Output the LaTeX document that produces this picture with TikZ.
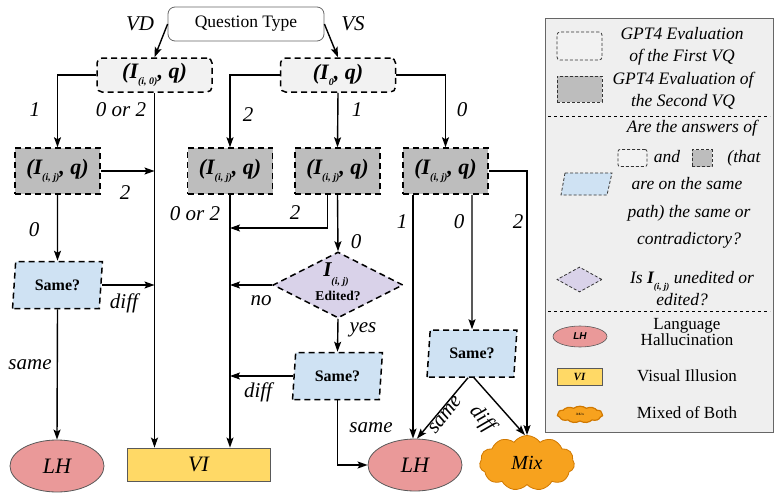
\documentclass[tikz,border=0pt]{standalone}
\usepackage{fontspec}
\setmainfont{Liberation Serif}
\newfontfamily\sansf{Liberation Sans}
\usetikzlibrary{shapes.geometric,shapes.symbols,arrows.meta,calc}
\definecolor{lightfill}{HTML}{F2F2F2}
\definecolor{darkfill}{HTML}{BDBDBD}
\definecolor{parafill}{HTML}{CFE2F3}
\definecolor{diafill}{HTML}{D9D2E9}
\definecolor{lhfill}{HTML}{EA9999}
\definecolor{vifill}{HTML}{FFD966}
\definecolor{mixfill}{HTML}{F7A21E}
\definecolor{mixdraw}{HTML}{D07800}
\definecolor{legfill}{HTML}{EFEFEF}
\newcommand{\lowsub}[1]{\raisebox{-6pt}{\fontsize{10}{10}\selectfont #1}}
\newcommand{\iq}[1]{(I\lowsub{#1}, q)}
\begin{document}
\begin{tikzpicture}[x=1pt,y=-1pt,
  arr/.style={line width=1.4pt,-{Stealth[length=10pt,width=7pt,inset=2pt]}},
  dsh/.style={dash pattern=on 6pt off 4pt, line width=1.5pt},
  lbox/.style={draw, dsh, rounded corners=5pt, fill=lightfill, minimum width=115pt, minimum height=34pt, inner sep=0pt, font=\fontsize{22}{24}\selectfont\bfseries\itshape},
  dbox/.style={draw, dsh, fill=darkfill, minimum width=85pt, minimum height=46pt, inner sep=0pt, font=\fontsize{22}{24}\selectfont\bfseries\itshape},
  para/.style={draw, dsh, fill=parafill, trapezium, trapezium left angle=81, trapezium right angle=99, trapezium stretches=true, minimum width=90pt, minimum height=47pt, inner sep=0pt, font=\fontsize{16}{18}\selectfont\bfseries},
  dia/.style={draw, dsh, fill=diafill, diamond, aspect=2, minimum width=130pt, minimum height=66pt, inner sep=0pt},
  lh/.style={draw=gray!70!black, line width=0.8pt, fill=lhfill, ellipse, minimum width=94pt, minimum height=52pt, inner sep=0pt, font=\fontsize{22}{24}\selectfont\itshape},
  vi/.style={draw=gray!70!black, line width=0.8pt, fill=vifill, minimum width=143pt, minimum height=33pt, inner sep=0pt, font=\fontsize{22}{24}\selectfont\itshape},
  mix/.style={draw=mixdraw, line width=0.8pt, fill=mixfill, cloud, cloud puffs=11, cloud puff arc=110, aspect=1.7, minimum width=95pt, minimum height=55pt, inner sep=0pt, font=\fontsize{20}{22}\selectfont\itshape},
  lab/.style={font=\fontsize{21}{23}\selectfont\itshape, inner sep=0pt},
  legt/.style={font=\fontsize{17.5}{20}\selectfont\itshape, inner sep=0pt, text height=13pt, text depth=4pt},
  legr/.style={font=\fontsize{17}{19}\selectfont, inner sep=0pt, text height=12pt, text depth=4pt},
  ksm/.style={dash pattern=on 3pt off 2pt, line width=0.8pt, draw=black!80}
]
\useasboundingbox (0,0) rectangle (780,498);

% ---------- main flowchart ----------
\node[draw=gray!80!black, line width=0.8pt, rounded corners=7pt, fill=white, minimum width=156pt, minimum height=34pt, font=\fontsize{17.5}{20}\selectfont] (qt) at (246,24) {Question Type};

\node[lbox] (a1) at (154.5,75) {\iq{(i, 0)}};
\node[lbox] (b1) at (338,75) {\iq{0}};
\node[dbox] (a2) at (57.5,171) {\iq{(i, j)}};
\node[dbox] (b2) at (230,171) {\iq{(i, j)}};
\node[dbox] (b3) at (337.5,171) {\iq{(i, j)}};
\node[dbox] (b4) at (445.5,171) {\iq{(i, j)}};
\node[para] (s1) at (57.5,285) {Same?};
\node[dia] (d) at (338,285) {};
\node[inner sep=0pt, font=\fontsize{21}{21}\selectfont\bfseries\itshape, anchor=base] (dt1) at (336,276) {I\raisebox{-8pt}{\fontsize{10}{10}\selectfont(i, j)}};
\node[inner sep=0pt, font=\fontsize{13.5}{14}\selectfont\bfseries, anchor=base] (dt2) at (338,300) {Edited?};
\node[para] (s2) at (337.5,376) {Same?};
\node[para] (s3) at (472,353.5) {Same?};
\node[lh] (lh1) at (57,466) {LH};
\node[vi] (vi) at (198.5,464.5) {VI};
\node[lh] (lh2) at (415,465) {LH};
\node[mix] (mix) at (527,463) {Mix};
\coordinate (j1) at (230,228);

% connectors
\draw[arr] (qt.west) -- (a1.north);
\draw[arr] (qt.east) -- (b1.north);
\node[lab] at (140,24) {VD};
\node[lab] at (353,24) {VS};

\draw[arr] (a1.west) -| (a2.north);
\node[lab] at (35,110) {1};
\draw[arr] (a1.south) -- (a1.south |- vi.north);
\node[lab] at (121,110) {0 or 2};
\draw[arr] (a2.east) -- (a2.east -| a1.south);
\node[lab] at (125,193) {2};
\draw[arr] (a2.south) -- (s1.north);
\node[lab] at (34,230) {0};
\draw[arr] (s1.east) -- (s1.east -| a1.south);
\node[lab] at (124,303) {diff};
\draw[arr] (s1.south) -- (lh1.north);
\node[lab] at (30,365) {same};

\draw[arr] (b1.west) -| (b2.north);
\node[lab] at (248,115) {2};
\draw[arr] (b1.south) -- (b3.north);
\node[lab] at (357,110) {1};
\draw[arr] (b1.east) -| (b4.north);
\node[lab] at (462,110) {0};
\draw[arr] (b2.south) -- (b2.south |- vi.north);
\node[lab] at (195,214) {0 or 2};
\draw[arr] ([xshift=-10pt]b3.south) |- (j1);
\node[lab] at (295,213) {2};
\draw[arr] (b3.south) -- (d.north);
\node[lab] at (356,242) {0};
\draw[arr] (d.west) -- (d.west -| b2.south);
\node[lab] at (261,301) {no};
\draw[arr] (d.south) -- (s2.north);
\node[lab] at (363,330) {yes};
\draw[arr] (s2.west) -- (s2.west -| b2.south);
\node[lab] at (258,392) {diff};
\draw[arr] (s2.south) |- (lh2.west);
\node[lab] at (371,428) {same};

\draw[arr] ([xshift=-32.5pt]b4.south) -- ([xshift=-32.5pt]b4.south |- lh2.north);
\node[lab] at (402,222) {1};
\draw[arr] ([xshift=26.5pt]b4.south) -- (s3.north);
\node[lab] at (459,222) {0};
\draw[arr] (b4.east) -| (mix.north);
\node[lab] at (518,222) {2};
\draw[arr] ([xshift=-4pt]s3.south) -- ([xshift=2pt]lh2.north);
\node[lab, rotate=52] at (445,415) {same};
\draw[arr] ([xshift=2pt]s3.south) -- ([xshift=-2pt]mix.north);
\node[lab, rotate=-50] at (482,419) {diff};

% ---------- legend ----------
\draw[draw=gray!80!black, line width=0.9pt, fill=legfill] (545,18) rectangle (773,432);
\node[ksm, draw, fill=lightfill, rounded corners=3pt, minimum width=45pt, minimum height=28pt] (k1) at (579.5,46) {};
\node[legt] at (682,35) {GPT4 Evaluation};
\node[legt] at (682,57) {of the First VQ};
\node[ksm, draw, fill=darkfill, minimum width=45pt, minimum height=26pt] (k2) at (579.5,89) {};
\node[legt] at (683,80) {GPT4 Evaluation of};
\node[legt] at (683,102) {the Second VQ};
\draw[dashed, line width=0.8pt] (548,116) -- (770,116);

\draw[ksm, fill=parafill] (565,173) -- (612,173) -- (607,195) -- (561,195) -- cycle;
\node[legt] at (692,128) {Are the answers of};
\node[ksm, draw, fill=lightfill, rounded corners=2pt, minimum width=29pt, minimum height=17pt, inner sep=0pt] (k4) at (632.5,158) {};
\node[legt] at (667,158) {and};
\node[ksm, draw, fill=darkfill, minimum width=20pt, minimum height=17pt, inner sep=0pt] (k5) at (702,158) {};
\node[legt] at (744,158) {(that};
\node[legt] at (687,185) {are on the same};
\node[legt] at (689,213) {path) the same or};
\node[legt] at (689,240) {contradictory?};

\node[ksm, draw, fill=diafill, diamond, minimum width=45pt, minimum height=25pt, inner sep=0pt] (k6) at (579.5,279.5) {};
\node[legt] at (692,279) {Is {\bfseries I}\raisebox{-6pt}{\fontsize{9}{9}\selectfont\bfseries(i, j)} unedited or};
\node[legt] at (682,301) {edited?};
\draw[dashed, line width=0.8pt] (548,311) -- (770,311);

\node[draw=gray!70!black, line width=0.6pt, fill=lhfill, ellipse, minimum width=54pt, minimum height=21pt, inner sep=0pt, font=\sansf\fontsize{10}{10}\selectfont\bfseries\itshape] (k7) at (580,336.5) {LH};
\node[legr] at (687,325) {Language};
\node[legr] at (687,341) {Hallucination};
\node[draw=gray!70!black, line width=0.6pt, fill=vifill, minimum width=45pt, minimum height=17pt, inner sep=0pt, font=\fontsize{11}{11}\selectfont\bfseries\itshape] (k8) at (579.5,376.5) {VI};
\node[legr] at (687,377) {Visual Illusion};
\begin{scope}[shift={(580,414.5)}, xscale=0.48, yscale=0.3, transform shape]
\node[mix, line width=1.2pt, font=\fontsize{11}{11}\selectfont\itshape] (k9) at (0,0) {Mix};
\end{scope}
\node[legr] at (687,414) {Mixed of Both};
\end{tikzpicture}
\end{document}
